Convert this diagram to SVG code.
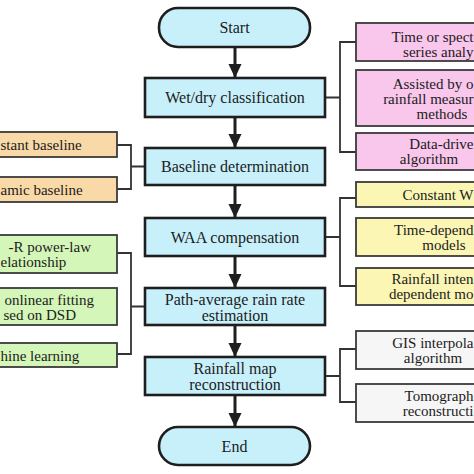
<svg xmlns="http://www.w3.org/2000/svg" width="474" height="474" viewBox="0 0 474 474">
<defs>
<style>
text{font-family:"Liberation Serif","Times New Roman",serif;font-size:16px;fill:#1c1c1c}
.s{font-size:15px}
.c{text-anchor:middle}
.e{text-anchor:end}
.main{fill:#c8f0fb;stroke:#1e1e1e;stroke-width:2.6}
.pink{fill:#f9c6ec;stroke:#3a3a3a;stroke-width:1.8}
.orange{fill:#fad9a9;stroke:#3a3a3a;stroke-width:1.8}
.green{fill:#d4f6b8;stroke:#3a3a3a;stroke-width:1.8}
.yellow{fill:#fbf6b4;stroke:#3a3a3a;stroke-width:1.8}
.gray{fill:#f6f6f6;stroke:#3a3a3a;stroke-width:1.8}
.arrow{stroke:#1e1e1e;stroke-width:3;fill:none;marker-end:url(#ah)}
.br{stroke:#333;stroke-width:1.8;fill:none}
</style>
<marker id="ah" markerWidth="14" markerHeight="14" refX="14" refY="7" orient="auto" markerUnits="userSpaceOnUse">
<path d="M0,0.5 L14,7 L0,13.5 z" fill="#1e1e1e"/>
</marker>
</defs>

<g id="connectors">
<line class="arrow" x1="235" y1="47" x2="235" y2="78"/>
<line class="arrow" x1="235" y1="117" x2="235" y2="148"/>
<line class="arrow" x1="235" y1="185" x2="235" y2="218"/>
<line class="arrow" x1="235" y1="256" x2="235" y2="288"/>
<line class="arrow" x1="235" y1="325" x2="235" y2="357"/>
<line class="arrow" x1="235" y1="395" x2="235" y2="427"/>
<path class="br" d="M356,42 H340 V152 H356 M325,97.5 H340"/>
<path class="br" d="M356,198 H340 V286 H356 M325,237 H340"/>
<path class="br" d="M356,349 H340 V402 H356 M325,376 H340"/>
<path class="br" d="M117,145 H131 V189 H117 M131,166.5 H145"/>
<path class="br" d="M117,253 H131 V354 H117 M131,306.5 H145"/>
</g>

<g id="start"><rect class="main" x="159" y="8" width="151" height="39" rx="19"/><text class="c" x="234.5" y="33">Start</text></g>
<g id="wetdry"><rect class="main" x="145" y="78" width="180" height="39"/><text class="c" x="235" y="103">Wet/dry classification</text></g>
<g id="baseline"><rect class="main" x="145" y="148" width="180" height="37"/><text class="c" x="235" y="172">Baseline determination</text></g>
<g id="waa"><rect class="main" x="145" y="218" width="180" height="38"/><text class="c" x="235" y="242.5">WAA compensation</text></g>
<g id="pathavg"><rect class="main" x="145" y="288" width="180" height="37"/><text class="c" x="235" y="305">Path-average rain rate</text><text class="c" x="235" y="321">estimation</text></g>
<g id="rainmap"><rect class="main" x="145" y="357" width="180" height="38"/><text class="c" x="235" y="374">Rainfall map</text><text class="c" x="235" y="390">reconstruction</text></g>
<g id="end"><rect class="main" x="159" y="427" width="151" height="38" rx="19"/><text class="c" x="234.5" y="451.5">End</text></g>

<g id="pink1"><rect class="pink" x="356" y="23" width="130" height="38"/><text class="s e" x="473.5" y="42">Time or spect</text><text class="s e" x="473.5" y="57">series analy</text></g>
<g id="pink2"><rect class="pink" x="356" y="70" width="130" height="56"/><text class="s e" x="473.5" y="89">Assisted by o</text><text class="s e" x="473.5" y="104">rainfall measur</text><text class="s c" x="442" y="119">methods</text></g>
<g id="pink3"><rect class="pink" x="356" y="133" width="130" height="37"/><text class="s e" x="473.5" y="148.5">Data-drive</text><text class="s c" x="429" y="163.5">algorithm</text></g>

<g id="yellow1"><rect class="yellow" x="356" y="182" width="130" height="25"/><text class="s e" x="473.5" y="199.5">Constant W</text></g>
<g id="yellow2"><rect class="yellow" x="356" y="218" width="130" height="38"/><text class="s e" x="473.5" y="235">Time-depend</text><text class="s c" x="444" y="250">models</text></g>
<g id="yellow3"><rect class="yellow" x="356" y="268" width="130" height="37"/><text class="s e" x="473.5" y="284">Rainfall inten</text><text class="s e" x="473.5" y="299">dependent mo</text></g>

<g id="gray1"><rect class="gray" x="356" y="331" width="130" height="38"/><text class="s e" x="473.5" y="347.5">GIS interpola</text><text class="s c" x="433" y="362.5">algorithm</text></g>
<g id="gray2"><rect class="gray" x="356" y="384" width="130" height="38"/><text class="s e" x="473.5" y="400.5">Tomograph</text><text class="s e" x="473.5" y="415.5">reconstructi</text></g>

<g id="orange1"><rect class="orange" x="-12" y="132" width="129" height="25"/><text class="s" x="0.5" y="149.5">stant baseline</text></g>
<g id="orange2"><rect class="orange" x="-12" y="177" width="129" height="25"/><text class="s" x="0.5" y="194.5">amic baseline</text></g>

<g id="green1"><rect class="green" x="-12" y="235" width="129" height="38"/><text class="s e" x="91" y="252">-R power-law</text><text class="s" x="0.5" y="267">elationship</text></g>
<g id="green2"><rect class="green" x="-12" y="288" width="129" height="37"/><text class="s e" x="94" y="304.5">onlinear fitting</text><text class="s e" x="76" y="319.5">sed on DSD</text></g>
<g id="green3"><rect class="green" x="-12" y="343" width="129" height="24"/><text class="s" x="0.5" y="360.5">hine learning</text></g>
</svg>
